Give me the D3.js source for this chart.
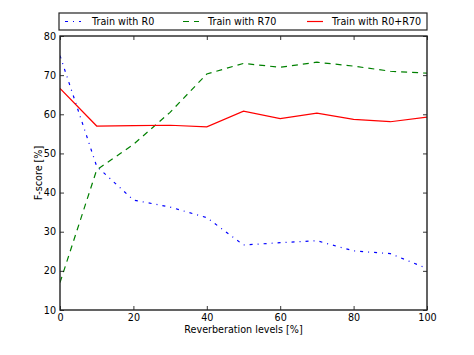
<!DOCTYPE html>
<html><head><meta charset="utf-8">
<script src="https://cdn.jsdelivr.net/npm/d3@7"></script>
<style>body{margin:0;background:#fff;} text{font-family:"DejaVu Sans",sans-serif;}</style>
</head><body><svg id="c" width="474" height="355"></svg>
<script>
const levels = [0,10,20,30,40,50,60,70,80,90,100];
const trainR0 = [75,46.7,38.1,36.3,33.6,26.6,27.2,27.7,25.1,24.4,20.6];
const trainR70 = [17,45.8,52.3,60.5,70.3,73,72,73.3,72.3,71,70.5];
const trainR0R70 = [66.6,57,57.1,57.2,56.8,60.8,58.9,60.3,58.7,58.1,59.3];
const seriesNames = ["Train with R0","Train with R70","Train with R0+R70"];
const xTicks = [0,20,40,60,80,100];
const yTicks = [10,20,30,40,50,60,70,80];

const svg = d3.select("#c");
const L=60,R=427,T=36,B=310;
const x = d3.scaleLinear().domain([0,100]).range([L,R]);
const y = d3.scaleLinear().domain([10,80]).range([B,T]);
const fs = "9.6px";

const series = [
  {name:seriesNames[0], vals:trainR0, color:"#0000ff", dash:"3,5,1,5", w:1.2},
  {name:seriesNames[1], vals:trainR70, color:"#008000", dash:"6,5", w:1.2},
  {name:seriesNames[2], vals:trainR0R70, color:"#ff0000", dash:null, w:1.2}
];
const line = d3.line().x((d,i)=>x(levels[i])).y(d=>y(d));
const g = svg.append("g");
g.append("defs").append("clipPath").attr("id","clip").append("rect").attr("x",L).attr("y",T).attr("width",R-L).attr("height",B-T);
series.forEach(s=>{
  g.append("path").datum(s.vals).attr("d",line).attr("fill","none")
   .attr("stroke",s.color).attr("stroke-width",s.w).attr("stroke-dasharray",s.dash)
   .attr("clip-path","url(#clip)");
});

// axes: ticks inward
const tk=4;
const ax = svg.append("g").attr("transform",`translate(0,${B})`)
  .call(d3.axisBottom(x).tickValues(xTicks).tickSizeInner(-tk).tickSizeOuter(0).tickPadding(4));
const axT = svg.append("g").attr("transform",`translate(0,${T})`)
  .call(d3.axisTop(x).tickValues(xTicks).tickSizeInner(-tk).tickSizeOuter(0).tickFormat(""));
const ay = svg.append("g").attr("transform",`translate(${L},0)`)
  .call(d3.axisLeft(y).tickValues(yTicks).tickSizeInner(-tk).tickSizeOuter(0).tickPadding(4));
const ayR = svg.append("g").attr("transform",`translate(${R},0)`)
  .call(d3.axisRight(y).tickValues(yTicks).tickSizeInner(-tk).tickSizeOuter(0).tickFormat(""));
[ax,axT,ay,ayR].forEach(a=>{
  a.select(".domain").remove();
  a.selectAll("line").attr("stroke","#000").attr("stroke-width",0.8);
  a.selectAll("text").attr("font-size",fs).attr("fill","#000").style("font-family","DejaVu Sans");
});
svg.append("rect").attr("x",L).attr("y",T).attr("width",R-L).attr("height",B-T)
  .attr("fill","none").attr("stroke","#222").attr("stroke-width",1.4);

svg.append("text").attr("x",(L+R)/2).attr("y",333).attr("text-anchor","middle")
  .attr("font-size",fs).text("Reverberation levels [%]");
svg.append("text").attr("transform",`translate(42,${(T+B)/2}) rotate(-90)`).attr("text-anchor","middle")
  .attr("font-size",fs).text("F-score [%]");

// legend
const lg = svg.append("g");
lg.append("rect").attr("x",59).attr("y",13).attr("width",368).attr("height",17)
  .attr("fill","#fff").attr("stroke","#222").attr("stroke-width",1.2);
const hx=[65,183,307], tx=[92,208,332];
series.forEach((s,i)=>{
  lg.append("line").attr("x1",hx[i]).attr("x2",hx[i]+16).attr("y1",21.5).attr("y2",21.5)
    .attr("stroke",s.color).attr("stroke-width",s.w).attr("stroke-dasharray",s.dash);
  lg.append("text").attr("x",tx[i]).attr("y",25).attr("font-size",fs).text(s.name);
});
</script></body></html>
